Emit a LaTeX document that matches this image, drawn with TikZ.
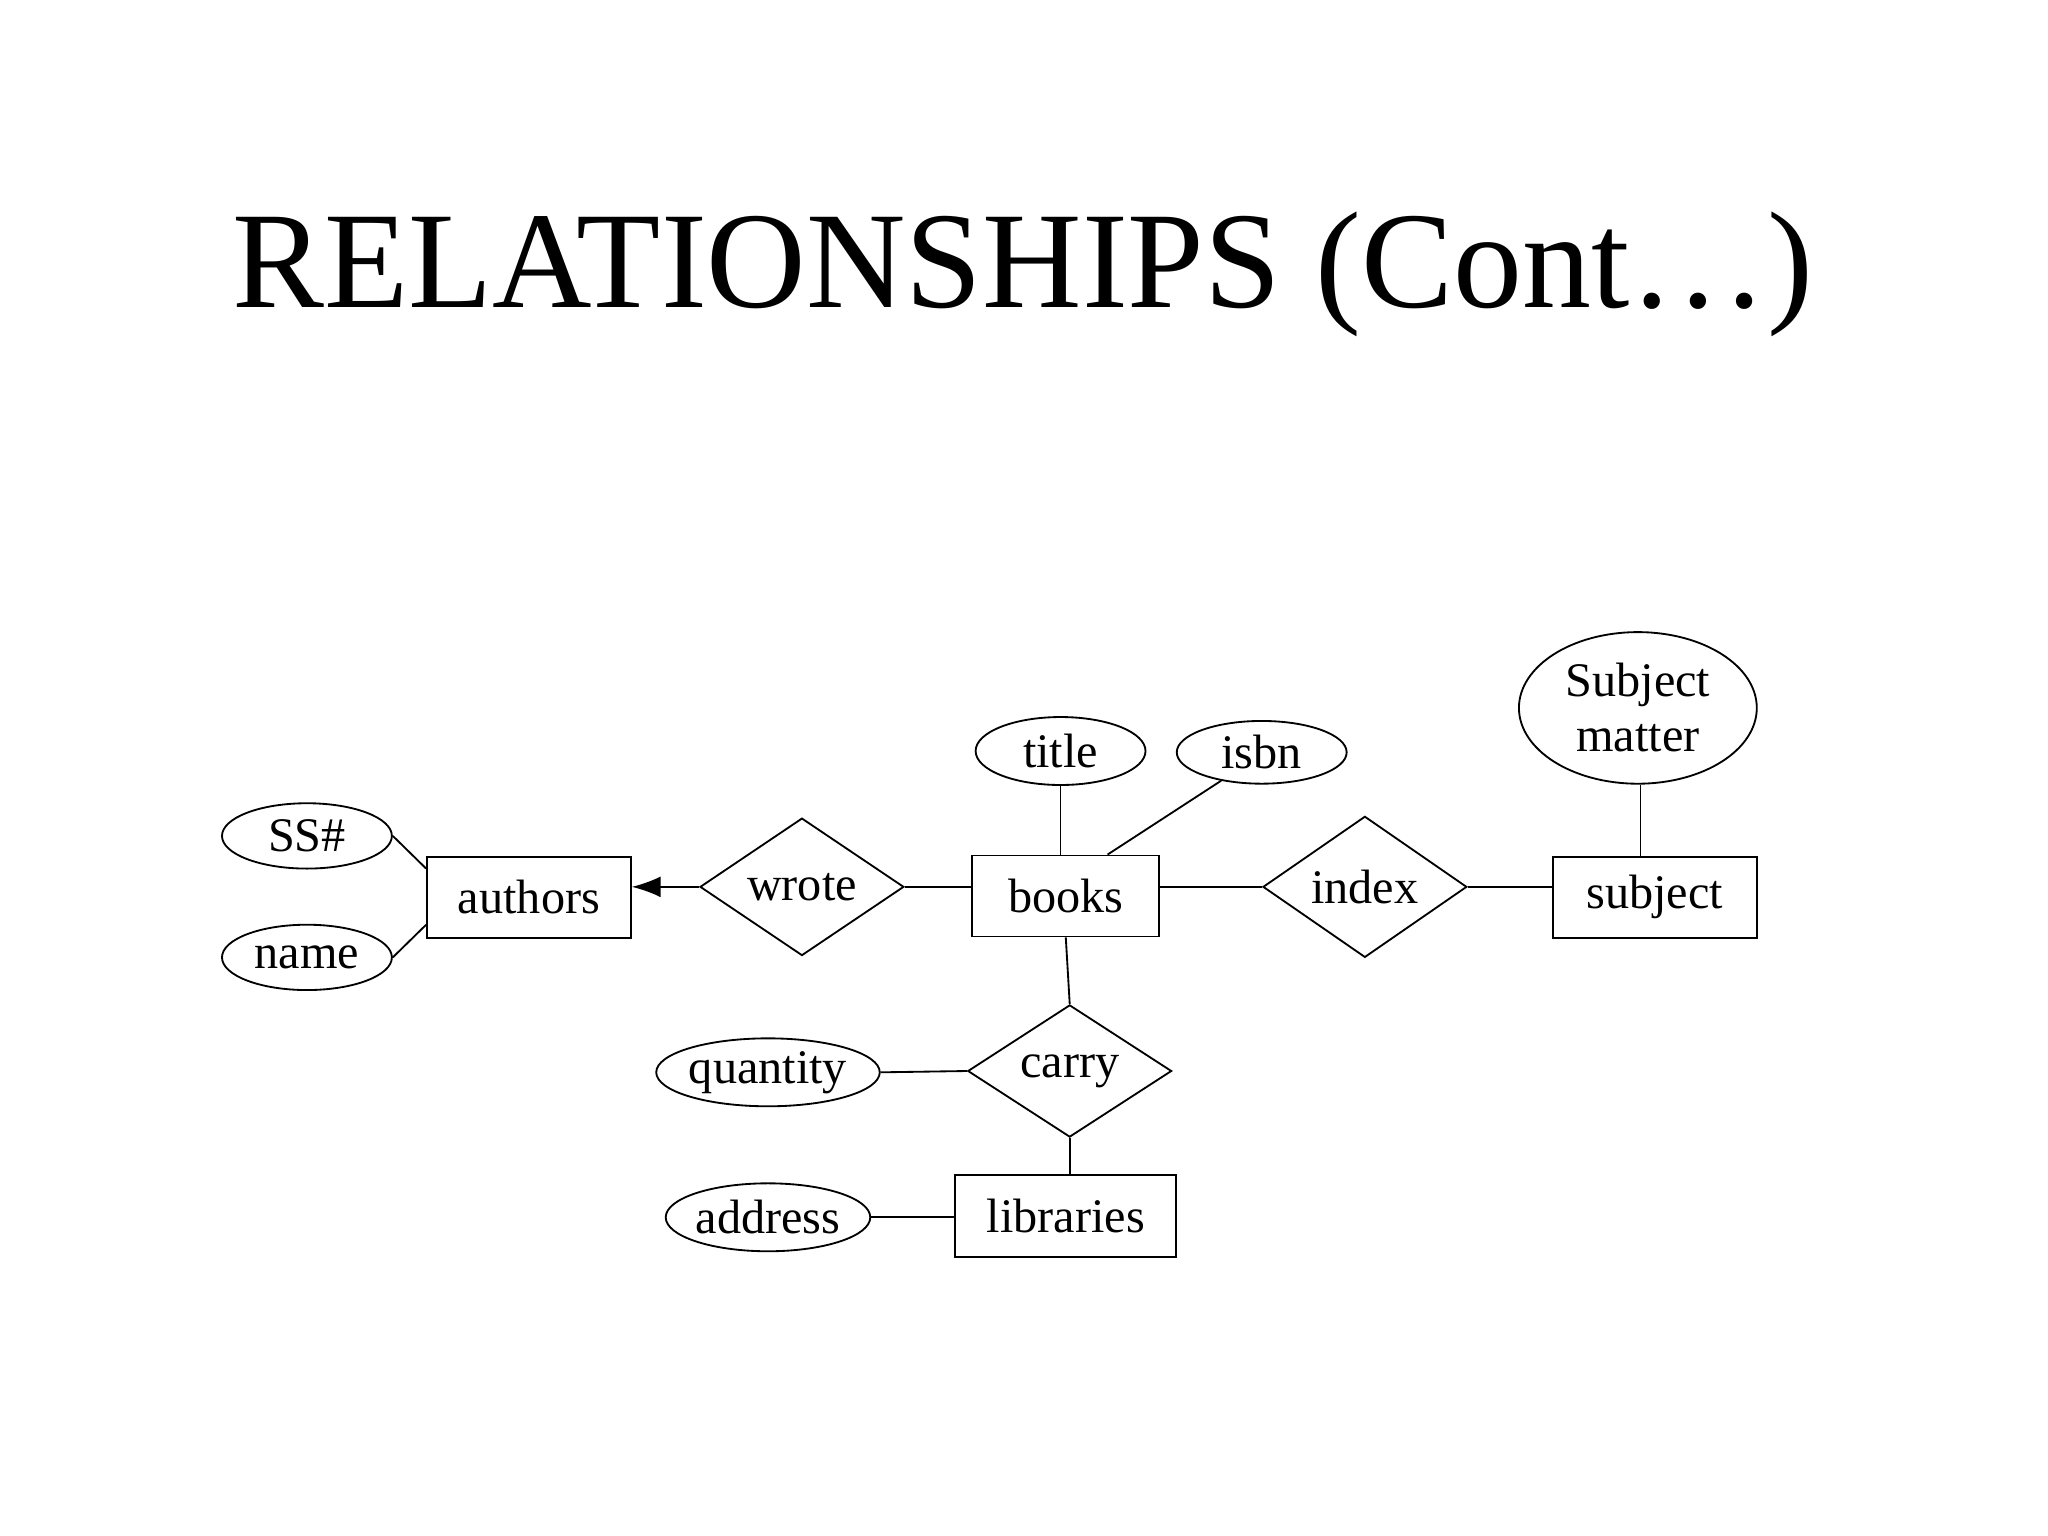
\documentclass[tikz,border=0pt]{standalone}
\usepackage{fontspec}
\setmainfont{Liberation Serif}
\usetikzlibrary{shapes.geometric,arrows.meta}
\begin{document}
\begin{tikzpicture}[x=0.01cm,y=-0.01cm,
  ent/.style={draw,rectangle,inner sep=0pt,font=\fontsize{10.5pt}{12pt}\selectfont},
  attr/.style={draw,ellipse,inner sep=0pt,minimum width=1.3cm,minimum height=0.5cm,font=\fontsize{10.5pt}{12pt}\selectfont},
  rel/.style={draw,diamond,inner sep=0pt,minimum width=1.56cm,minimum height=0.78cm,font=\fontsize{10.5pt}{12pt}\selectfont},
  line width=0.4pt]
\useasboundingbox (0,0) rectangle (1568,1176);
\node[font=\fontsize{30pt}{34pt}\selectfont] (t) at (783,210) {RELATIONSHIPS (Cont…)};
\node[ent,minimum width=1.56cm,minimum height=0.62cm] (authors) at (405,687) {authors};
\node[attr] (ss) at (235,640) {SS\#};
\node[attr] (name) at (235,733) {name};
\node[rel] (wrote) at (614,679) {wrote};
\node[ent,minimum width=1.43cm,minimum height=0.62cm] (books) at (816,686) {books};
\node[attr,minimum height=0.52cm] (title) at (812,575) {title};
\node[attr,minimum height=0.48cm] (isbn) at (966,576) {isbn};
\node[rel] (index) at (1045,679) {index};
\node[ent,minimum width=1.56cm,minimum height=0.62cm] (subject) at (1267,687) {subject};
\node[attr,minimum width=1.82cm,minimum height=1.16cm,align=center] (sm) at (1254,542) {Subject\\matter};
\node[rel] (carry) at (819,820) {carry};
\node[ent,minimum width=1.69cm,minimum height=0.63cm] (lib) at (816,931) {libraries};
\node[attr,minimum height=0.52cm] (qty) at (588,821) {quantity};
\node[attr,minimum height=0.52cm] (addr) at (588,932) {address};
\draw (ss.east) -- (authors.north west |- 0,665) coordinate (a1);
\draw (name.east) -- (authors.west |- 0,708);
\draw[-{Latex[length=2.2mm,width=1.6mm]}] (wrote.west) -- (authors.east |- wrote.west);
\draw (wrote.east) -- (books.west |- wrote.east);
\draw (books.east |- index.west) -- (index.west);
\draw (index.east) -- (subject.west |- index.east);
\draw (title.south) -- (title.south |- books.north);
\draw (isbn.215) -- (books.north -| 848,0);
\draw (sm.south -| 1256,0) -- (subject.north -| 1256,0);
\draw (books.south) -- (carry.north);
\draw (qty.east) -- (carry.west);
\draw (carry.south) -- (lib.north -| carry.south);
\draw (addr.east) -- (lib.west |- addr.east);
\end{tikzpicture}
\end{document}
